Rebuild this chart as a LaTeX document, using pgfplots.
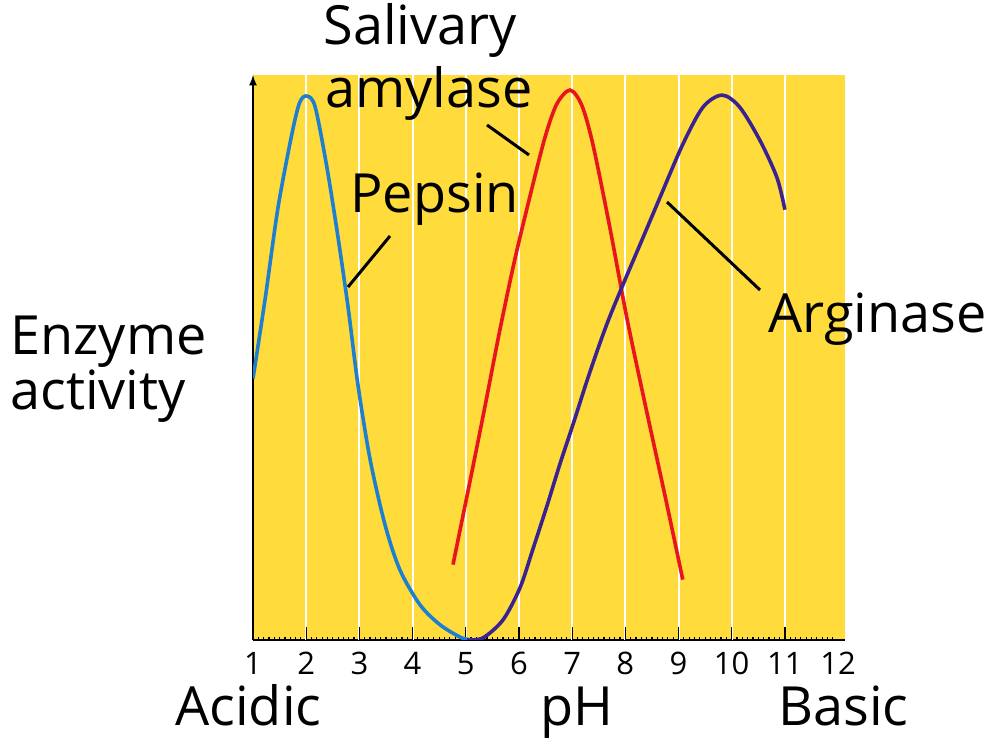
\documentclass[border=0pt]{standalone}
\usepackage{fontspec}
\setmainfont{Open Sans}
\usepackage{pgfplots}
\pgfplotsset{compat=1.18}
\definecolor{bgyellow}{HTML}{FFDC3C}
\definecolor{pepsinblue}{HTML}{1E7FD0}
\definecolor{amylred}{HTML}{E8141E}
\definecolor{argpurple}{HTML}{3A2290}

\begin{document}
\begin{tikzpicture}
% canvas in pixel units (1px = 0.5pt), origin at top left
\begin{scope}[x=0.5pt,y=-0.5pt,shift={(-126.5pt,320pt)}]
  \useasboundingbox (0,0) rectangle (1000,748);
\end{scope}

\begin{axis}[
    scale only axis,
    width=296pt, height=282.5pt,
    xmin=1, xmax=12.13,
    ymin=0, ymax=562,
    axis x line=bottom,
    axis y line=left,
    x axis line style={-, line width=0.8pt},
    y axis line style={-latex, line width=0.8pt},
    axis background/.style={fill=bgyellow},
    xtick={1,...,12},
    ytick=\empty,
    major tick length=0pt,
    minor x tick num=9,
    minor tick length=1.6pt,
    xtick align=inside,
    extra x ticks={2,...,11},
    extra x tick labels={},
    extra x tick style={grid=major, major tick length=6.5pt},
    major grid style={white, line width=1pt},
    tick style={black, line width=0.6pt},
    /pgf/number format/assume math mode=true,
    xticklabel style={font=\fontsize{15.5}{18}\selectfont, inner sep=0pt, anchor=north, yshift=-6pt},
]

% Pepsin
\addplot[pepsinblue, line width=1.8pt, smooth] coordinates {
    (1.00,260) (1.23,340) (1.47,430) (1.73,503) (1.88,535) (2.02,541)
    (2.17,530) (2.39,470) (2.60,400) (2.79,330) (2.97,255) (3.20,180)
    (3.48,115) (3.76,70) (4.14,35) (4.52,15) (4.93,2) (5.17,0)
};

% Salivary amylase
\addplot[amylred, line width=1.8pt, smooth] coordinates {
    (4.76,75) (5.08,158) (5.36,232) (5.64,308) (5.92,378) (6.21,442)
    (6.49,500) (6.71,533) (6.96,547) (7.18,532) (7.39,493) (7.71,410)
    (8.03,320) (8.37,235) (8.74,145) (9.08,60)
};

% Arginase
\addplot[argpurple, line width=1.8pt, smooth] coordinates {
    (5.02,0) (5.32,2) (5.70,20) (6.02,52) (6.26,90) (6.53,134) (6.77,175)
    (7.02,215) (7.28,258) (7.52,295) (7.71,322) (8.00,359) (8.33,400)
    (8.65,440) (9.08,493) (9.46,530) (9.82,542) (10.15,530) (10.53,497)
    (10.85,460) (11.00,428)
};
\end{axis}

\begin{scope}[x=0.5pt,y=-0.5pt,shift={(-126.5pt,320pt)},
    every node/.style={anchor=base west, inner sep=0pt, font=\fontsize{27}{32}\selectfont}]
  \node at (10,355) {Enzyme};
  \node at (10,410) {activity};
  \node at (323,45) {Salivary};
  \node at (325,108) {amylase};
  \node at (350,213) {Pepsin};
  \node at (768,333) {Arginase};
  \node at (175,726) {Acidic};
  \node at (540,726) {pH};
  \node at (778,726) {Basic};
  \draw[line width=1.5pt] (390,236) -- (348,287);
  \draw[line width=1.5pt] (487,125) -- (529,155);
  \draw[line width=1.5pt] (667,202) -- (760,290);
\end{scope}
\end{tikzpicture}
\end{document}
